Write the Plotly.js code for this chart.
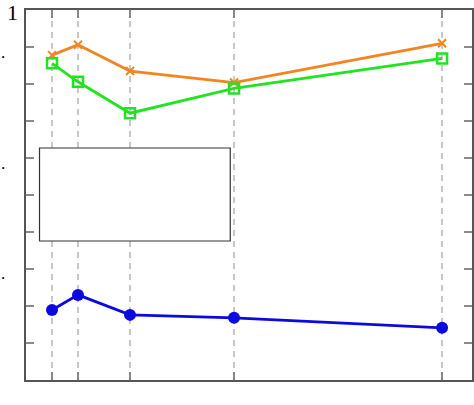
<!DOCTYPE html>
<html>
<head>
<meta charset="utf-8">
<script src="https://cdn.plot.ly/plotly-3.0.1.min.js"></script>
<style>html,body{margin:0;padding:0;background:#fff;}#chart{width:474px;height:405px;}</style>
</head>
<body>
<div id="chart"></div>
<script>
const xValues = [1, 2, 4, 8, 16];
const seriesOrange = [0.878, 0.906, 0.835, 0.804, 0.910];
const seriesGreen = [0.856, 0.806, 0.721, 0.788, 0.869];
const seriesBlue = [0.189, 0.230, 0.176, 0.168, 0.141];
const yTickVals = [0, 0.1, 0.2, 0.3, 0.4, 0.5, 0.6, 0.7, 0.8, 0.9, 1];

const traces = [
  {x: xValues, y: seriesOrange, mode: 'lines+markers', type: 'scatter',
   line: {color: '#f28522', width: 2.8},
   marker: {symbol: 'x-thin-open', size: 8, color: '#f28522', line: {color: '#f28522', width: 2}}},
  {x: xValues, y: seriesGreen, mode: 'lines+markers', type: 'scatter',
   line: {color: '#22e322', width: 2.8},
   marker: {symbol: 'square-open', size: 10, color: '#22e322', line: {color: '#22e322', width: 2.5}}},
  {x: xValues, y: seriesBlue, mode: 'lines+markers', type: 'scatter',
   line: {color: '#0a0ae0', width: 2.8},
   marker: {symbol: 'circle', size: 12, color: '#0a0ae0'}}
];

const layout = {
  width: 474, height: 405,
  margin: {l: 26, r: 2, t: 10, b: 25, pad: 0},
  paper_bgcolor: '#fff', plot_bgcolor: '#fff',
  showlegend: false,
  xaxis: {
    range: [0, 17.15], tickvals: xValues, showticklabels: false,
    ticks: 'inside', ticklen: 8, tickcolor: '#8a8a8a', tickwidth: 1.2,
    showgrid: true, gridcolor: '#c8c8c8', griddash: '6px,5px', gridwidth: 1.2,
    showline: true, linecolor: '#555', linewidth: 2, mirror: 'ticks', zeroline: false
  },
  yaxis: {
    range: [0, 1], tickvals: yTickVals, showticklabels: false,
    ticks: 'inside', ticklen: 8, tickcolor: '#8a8a8a', tickwidth: 1.2,
    showgrid: false, showline: true, linecolor: '#555', linewidth: 2, mirror: 'ticks', zeroline: false
  },
  shapes: [
    {type: 'rect', xref: 'paper', yref: 'paper', x0: 0.0303, x1: 0.458, y0: 0.3757, y1: 0.627,
     line: {color: '#333', width: 1.2}, fillcolor: '#fff', layer: 'above'}
  ],
  annotations: [
    {text: '1', xref: 'paper', yref: 'paper', x: -0.031, y: 0.992, xanchor: 'center', yanchor: 'middle',
     showarrow: false, font: {family: 'Liberation Serif, DejaVu Serif, serif', size: 22, color: '#000'}},
    {text: '.', xref: 'paper', yref: 'paper', x: -0.052, y: 0.885, xanchor: 'center', yanchor: 'middle',
     showarrow: false, font: {family: 'Liberation Serif, DejaVu Serif, serif', size: 17, color: '#000'}},
    {text: '.', xref: 'paper', yref: 'paper', x: -0.052, y: 0.585, xanchor: 'center', yanchor: 'middle',
     showarrow: false, font: {family: 'Liberation Serif, DejaVu Serif, serif', size: 17, color: '#000'}},
    {text: '.', xref: 'paper', yref: 'paper', x: -0.052, y: 0.287, xanchor: 'center', yanchor: 'middle',
     showarrow: false, font: {family: 'Liberation Serif, DejaVu Serif, serif', size: 17, color: '#000'}}
  ]
};

Plotly.newPlot('chart', traces, layout, {displayModeBar: false, staticPlot: true});
</script>
</body>
</html>
